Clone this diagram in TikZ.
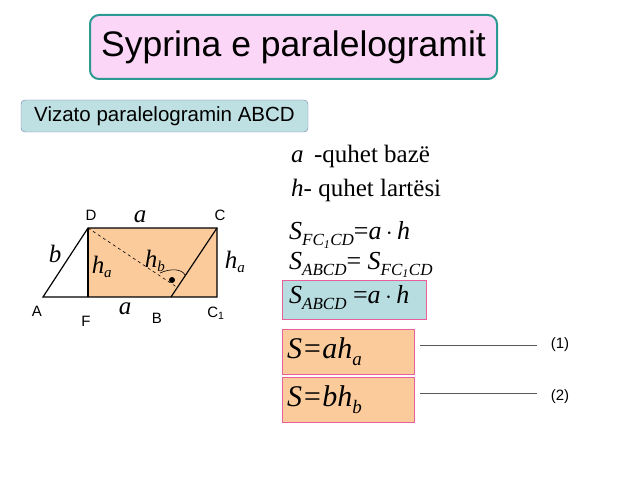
\documentclass[tikz,border=0pt]{standalone}
\usepackage{fontspec}
\setmainfont{Liberation Serif}
\newfontfamily\sans{Liberation Sans}
\begin{document}
\begin{tikzpicture}[x=1pt,y=-1pt,
  sl/.style={font=\sans\fontsize{15}{15}\selectfont,inner sep=0pt},
  ml/.style={font=\fontsize{25}{25}\selectfont\itshape,inner sep=0pt},
  fl/.style={font=\fontsize{26}{26}\selectfont,inner sep=0pt,anchor=west}]
\useasboundingbox (0,0) rectangle (638,478);
\definecolor{org}{HTML}{FBCB9C}
\definecolor{pinkb}{HTML}{E8609A}
\definecolor{teal}{HTML}{2C9A92}
\def\sub#1{\raisebox{-6pt}{\fontsize{17}{17}\selectfont\itshape #1}}
% title
\node[draw=teal,line width=2pt,fill={rgb,255:red,251;green,214;blue,246},rounded corners=9pt,minimum width=407pt,minimum height=64pt] (title) at (293.5,47) {\sans\fontsize{35.5}{36}\selectfont Syprina e paralelogramit};
\node[draw={rgb,255:red,110;green,130;blue,170},fill={rgb,255:red,190;green,224;blue,226},rounded corners=4pt,minimum width=287pt,minimum height=32pt] (sub) at (164.5,116) {\sans\fontsize{20.5}{21}\selectfont Vizato paralelogramin ABCD};
% figure
\coordinate (A) at (43,297); \coordinate (F) at (88,297); \coordinate (D) at (88,228);
\coordinate (C) at (217,228); \coordinate (B) at (171,297); \coordinate (C1) at (217,297);
\coordinate (P) at (177.3,287.5);
\fill[org] (F) rectangle (C);
\draw[line width=1.2pt] (A) -- (C1) -- (C) -- (D) -- cycle;
\draw[line width=1.2pt] (D) -- (F);
\draw[line width=1.2pt] (B) -- (C);
\draw[dashed,line width=0.6pt] (D) -- (P);
\draw[line width=0.6pt] (160,273) .. controls (171,268) and (182,269) .. (185,275);
\fill (172,280) circle (3pt);
\node[sl] (lD) at (91,215) {D};
\node[sl] (lC) at (220,215) {C};
\node[sl] (lA) at (37,311) {A};
\node[sl] (lF) at (86,321) {F};
\node[sl] (lB) at (157,318) {B};
\node[sl] (lC1) at (216,313) {C\textsubscript{1}};
\node[ml] (la1) at (140,217) {a};
\node[ml] (la2) at (125,309) {a};
\node[ml] (lb) at (55,254) {b};
\node[ml] (lha) at (102,267) {h$_{\mbox{\fontsize{15}{15}\selectfont\itshape a}}$};
\node[ml] (lhb) at (155,261) {h$_{\mbox{\fontsize{15}{15}\selectfont\itshape b}}$};
\node[ml] (lha2) at (235,262) {h$_{\mbox{\fontsize{15}{15}\selectfont\itshape a}}$};
% text
\node[fl,font=\fontsize{25}{25}\selectfont] (t1) at (291,156) {\textit{a}\, -quhet bazë};
\node[fl,font=\fontsize{25}{25}\selectfont] (t2) at (291,190) {\textit{h}- quhet lartësi};
\node[fl] (f1) at (289,235) {\textit{S}\sub{FC\textsubscript{1}CD}=\textit{a}\,${\cdot}$\,\textit{h}};
\node[fl] (f2) at (289,265) {\textit{S}\sub{ABCD}= \textit{S}\sub{FC\textsubscript{1}CD}};
\node[draw=pinkb,fill={rgb,255:red,183;green,221;blue,224},minimum width=144pt,minimum height=39pt] (bx) at (354,299.5) {};
\node[fl] (f3) at (289,298) {\textit{S}\sub{ABCD} =\textit{a}\,${\cdot}$\,\textit{h}};
\node[draw=pinkb,fill=org,minimum width=132pt,minimum height=45pt] (b1) at (348,351.5) {};
\node[draw=pinkb,fill=org,minimum width=132pt,minimum height=45pt] (b2) at (348,399.5) {};
\node[fl,font=\fontsize{30}{30}\selectfont\itshape] (s1) at (287,352) {S=ah\raisebox{-7pt}{\fontsize{19}{19}\selectfont\itshape a}};
\node[fl,font=\fontsize{30}{30}\selectfont\itshape] (s2) at (287,400) {S=bh\raisebox{-7pt}{\fontsize{19}{19}\selectfont\itshape b}};
\coordinate (l1a) at (420,345); \coordinate (l1b) at (537,345);
\coordinate (l2a) at (420,393); \coordinate (l2b) at (537,393);
\draw[gray!70!black,line width=0.8pt] (l1a) -- (l1b);
\draw[gray!70!black,line width=0.8pt] (l2a) -- (l2b);
\node[sl] (n1) at (560,345) {(1)};
\node[sl] (n2) at (560,397) {(2)};
\end{tikzpicture}
\end{document}
